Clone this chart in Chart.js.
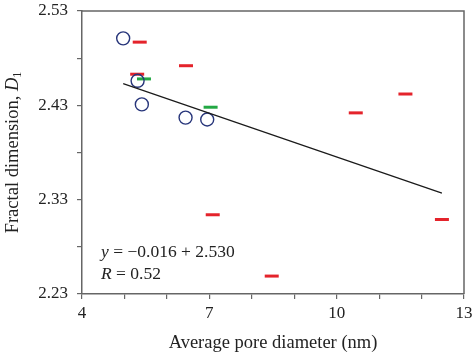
<!DOCTYPE html>
<html>
<head>
<meta charset="utf-8">
<script src="https://cdn.jsdelivr.net/npm/chart.js@4.4.0/dist/chart.umd.min.js"></script>
<style>
  html, body { margin: 0; padding: 0; background: #fff; }
  #wrap { width: 474px; height: 354px; }
</style>
</head>
<body>
<div id="wrap"><canvas id="chart" width="474" height="354"></canvas></div>
<script>
// values
const circleX = [4.97, 5.31, 5.41, 6.44, 6.95];
const circleY = [2.501, 2.456, 2.431, 2.417, 2.415];

const redX = [5.36, 5.30, 6.45, 7.08, 10.45, 11.62, 8.47, 12.48];
const redY = [2.497, 2.463, 2.472, 2.314, 2.422, 2.442, 2.249, 2.309];

const greenX = [5.46, 7.03];
const greenY = [2.458, 2.428];

// fitted line ends
const fitX = [4.97, 12.48];
const fitY = [2.453, 2.337];

const xLabels = [4, 7, 10, 13];
const yLabels = [2.23, 2.33, 2.43, 2.53];

const serif = '"Liberation Serif", "DejaVu Serif", serif';
const textColor = '#222';
const frameColor = '#666';

const toPoints = (xs, ys) => xs.map((x, i) => ({ x: x, y: ys[i] }));

// draws a row of text pieces with their own fonts
function drawRich(ctx, parts, x, y) {
    let cx = x;
    parts.forEach(p => {
        ctx.font = p.font;
        ctx.fillText(p.text, cx, y + (p.dy || 0));
        cx += ctx.measureText(p.text).width;
    });
}

function richWidth(ctx, parts) {
    let w = 0;
    parts.forEach(p => {
        ctx.font = p.font;
        w += ctx.measureText(p.text).width;
    });
    return w;
}

const extrasPlugin = {
    id: 'extras',
    afterDraw(chart) {
        const { ctx, chartArea } = chart;
        ctx.save();

        // top and right frame
        ctx.strokeStyle = frameColor;
        ctx.lineWidth = 1.5;
        ctx.beginPath();
        ctx.moveTo(chartArea.left, chartArea.top);
        ctx.lineTo(chartArea.right, chartArea.top);
        ctx.lineTo(chartArea.right, chartArea.bottom);
        ctx.stroke();

        ctx.fillStyle = textColor;
        ctx.textBaseline = 'middle';
        ctx.textAlign = 'left';

        // equation
        const reg = '17.5px ' + serif;
        const ita = 'italic 17.5px ' + serif;
        drawRich(ctx, [
            { text: 'y', font: ita },
            { text: ' = \u22120.016 + 2.530', font: reg }
        ], chartArea.left + 19, chartArea.bottom - 42);
        drawRich(ctx, [
            { text: 'R', font: ita },
            { text: ' = 0.52', font: reg }
        ], chartArea.left + 19, chartArea.bottom - 20);

        // y axis title
        const treg = '18.5px ' + serif;
        const title = [
            { text: 'Fractal dimension, ', font: treg },
            { text: 'D', font: 'italic 18.5px ' + serif },
            { text: '1', font: '12px ' + serif, dy: 5 }
        ];
        const w = richWidth(ctx, title);
        ctx.translate(13, (chartArea.top + chartArea.bottom) / 2);
        ctx.rotate(-Math.PI / 2);
        drawRich(ctx, title, -w / 2, 0);

        ctx.restore();
    }
};

new Chart(document.getElementById('chart'), {
    type: 'scatter',
    data: {
        datasets: [
            {
                type: 'line',
                data: toPoints(fitX, fitY),
                borderColor: '#1a1a1a',
                borderWidth: 1.2,
                pointRadius: 0,
                fill: false
            },
            {
                data: toPoints(circleX, circleY),
                pointStyle: 'circle',
                pointRadius: 6.5,
                borderColor: '#27357a',
                backgroundColor: 'rgba(0,0,0,0)',
                borderWidth: 1.4
            },
            {
                data: toPoints(redX, redY),
                pointStyle: 'line',
                pointRadius: 7,
                borderColor: '#e4232b',
                borderWidth: 3
            },
            {
                data: toPoints(greenX, greenY),
                pointStyle: 'line',
                pointRadius: 7,
                borderColor: '#23a844',
                borderWidth: 3
            }
        ]
    },
    options: {
        responsive: false,
        animation: false,
        layout: { padding: { top: 11, right: 9, left: 0, bottom: 0 } },
        plugins: {
            legend: { display: false },
            tooltip: { enabled: false }
        },
        scales: {
            x: {
                type: 'linear',
                min: 4,
                max: 13,
                afterFit: (s) => { s.height = 60; s.paddingLeft = 0; s.paddingRight = 0; },
                border: { color: frameColor, width: 1.5 },
                grid: { drawOnChartArea: false, drawTicks: true, tickLength: 5, color: frameColor, lineWidth: 1.2 },
                ticks: {
                    stepSize: 1,
                    padding: 4,
                    color: textColor,
                    maxRotation: 0,
                    autoSkip: false,
                    font: { family: serif, size: 17 },
                    callback: (v) => xLabels.includes(v) ? String(v) : ''
                },
                title: {
                    display: true,
                    text: 'Average pore diameter (nm)',
                    color: textColor,
                    font: { family: serif, size: 18.5 },
                    padding: { top: 6, bottom: 0 }
                }
            },
            y: {
                type: 'linear',
                min: 2.23,
                max: 2.53,
                afterFit: (s) => { s.width = 82; s.paddingTop = 0; s.paddingBottom = 0; },
                border: { color: frameColor, width: 1.5 },
                grid: { drawOnChartArea: false, drawTicks: true, tickLength: 5, color: frameColor, lineWidth: 1.2 },
                ticks: {
                    stepSize: 0.05,
                    padding: 9,
                    color: textColor,
                    autoSkip: false,
                    font: { family: serif, size: 17 },
                    callback: (v) => {
                        const hit = yLabels.find(l => Math.abs(l - v) < 1e-6);
                        return hit !== undefined ? hit.toFixed(2) : '';
                    }
                }
            }
        }
    },
    plugins: [extrasPlugin]
});
</script>
</body>
</html>
